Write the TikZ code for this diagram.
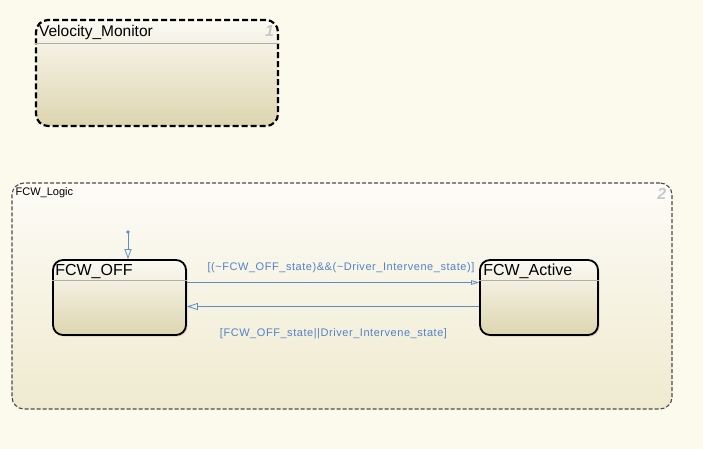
\documentclass[tikz,border=0pt]{standalone}
\usepackage{fontspec}
\setmainfont{Liberation Sans}
\newfontfamily\transfont[LetterSpace=5]{Liberation Sans}
\usetikzlibrary{arrows.meta,shadows}

\definecolor{bgcream}{RGB}{252,250,237}
\definecolor{statetop}{RGB}{251,250,243}
\definecolor{statebot}{RGB}{221,213,176}
\definecolor{charttop}{RGB}{253,252,247}
\definecolor{chartbot}{RGB}{239,234,207}
\definecolor{transblue}{RGB}{95,140,200}
\definecolor{labelblue}{RGB}{80,130,200}
\definecolor{numgray}{RGB}{200,200,200}
\definecolor{headgray}{RGB}{175,175,170}

\begin{document}
\begin{tikzpicture}[x=1pt,y=-1pt,
  chartbox/.style={draw=black!70, dash pattern=on 4pt off 2pt, line width=1.1pt,
    rounded corners=12pt, top color=charttop, bottom color=chartbot, inner sep=0pt},
  monitorbox/.style={draw=black, dash pattern=on 6pt off 3pt, line width=2.2pt,
    rounded corners=12pt, top color=statetop, bottom color=statebot, inner sep=0pt},
  statebox/.style={draw=black, line width=1.8pt, rounded corners=10pt,
    top color=statetop, bottom color=statebot, inner sep=0pt,
    drop shadow={shadow xshift=1.5pt, shadow yshift=-1.5pt, opacity=0.25}},
  headline/.style={draw=headgray, line width=0.6pt},
  statename/.style={anchor=north west, inner sep=0pt, font=\fontsize{16}{18}\selectfont},
  chartname/.style={anchor=north west, inner sep=0pt, font=\fontsize{11}{13}\selectfont},
  ordernum/.style={anchor=north east, inner sep=0pt, text=numgray,
    font=\fontsize{16}{18}\selectfont\bfseries\itshape},
  trans/.style={draw=transblue, line width=0.8pt},
  translabel/.style={text=labelblue, inner sep=0pt, font=\fontsize{11}{13}\transfont}
]

% background and page size
\fill[bgcream] (0,0) rectangle (703,449);
\useasboundingbox (0,0) rectangle (703,449);

% Velocity_Monitor
\node[monitorbox, minimum width=242pt, minimum height=106pt] (monitor) at (157,73) {};
\draw[headline] (monitor.west |- 0,43) -- (monitor.east |- 0,43);
\node[statename, font=\fontsize{15.5}{17}\selectfont] (monitorname)
  at ([shift={(4,6)}]monitor.north west) {Velocity\_Monitor};
\node[ordernum] (monitornum) at ([shift={(-5,6)}]monitor.north east) {1};

% FCW_Logic
\node[chartbox, minimum width=660pt, minimum height=226pt] (logic) at (342,296) {};
\node[chartname] (logicname) at ([shift={(4,5)}]logic.north west) {FCW\_Logic};
\node[ordernum] (logicnum) at ([shift={(-6,6)}]logic.north east) {2};

% states
\node[statebox, minimum width=133pt, minimum height=75pt] (off) at (119.5,297.5) {};
\node[statebox, minimum width=118pt, minimum height=75pt] (active) at (539,297.5) {};
\draw[headline] (off.west |- 0,280) -- (off.east |- 0,280);
\draw[headline] (active.west |- 0,280) -- (active.east |- 0,280);
\node[statename] (offname) at ([shift={(3,5)}]off.north west) {FCW\_OFF};
\node[statename] (activename) at ([shift={(4,5)}]active.north west) {FCW\_Active};

% transitions
\coordinate (init) at (128,232);
\coordinate (t1) at (0,282.5);
\coordinate (t2) at (0,306.5);
\fill[transblue] (init) circle (1.8pt);
\draw[trans, -{Triangle[open, length=10pt, width=7pt]}] (init) -- (init |- off.north);
\draw[trans, -{Triangle[open, length=8pt, width=4.5pt]}] (off.east |- t1) -- (active.west |- t1);
\draw[trans, -{Triangle[open, length=11pt, width=7pt]}] (active.west |- t2) -- (off.east |- t2);

\node[translabel] (lab1) at (341,267.5) {[(\textasciitilde FCW\_OFF\_state)\&\&(\textasciitilde Driver\_Intervene\_state)]};
\node[translabel] (lab2) at (333.5,334) {[FCW\_OFF\_state||Driver\_Intervene\_state]};

\end{tikzpicture}
\end{document}
